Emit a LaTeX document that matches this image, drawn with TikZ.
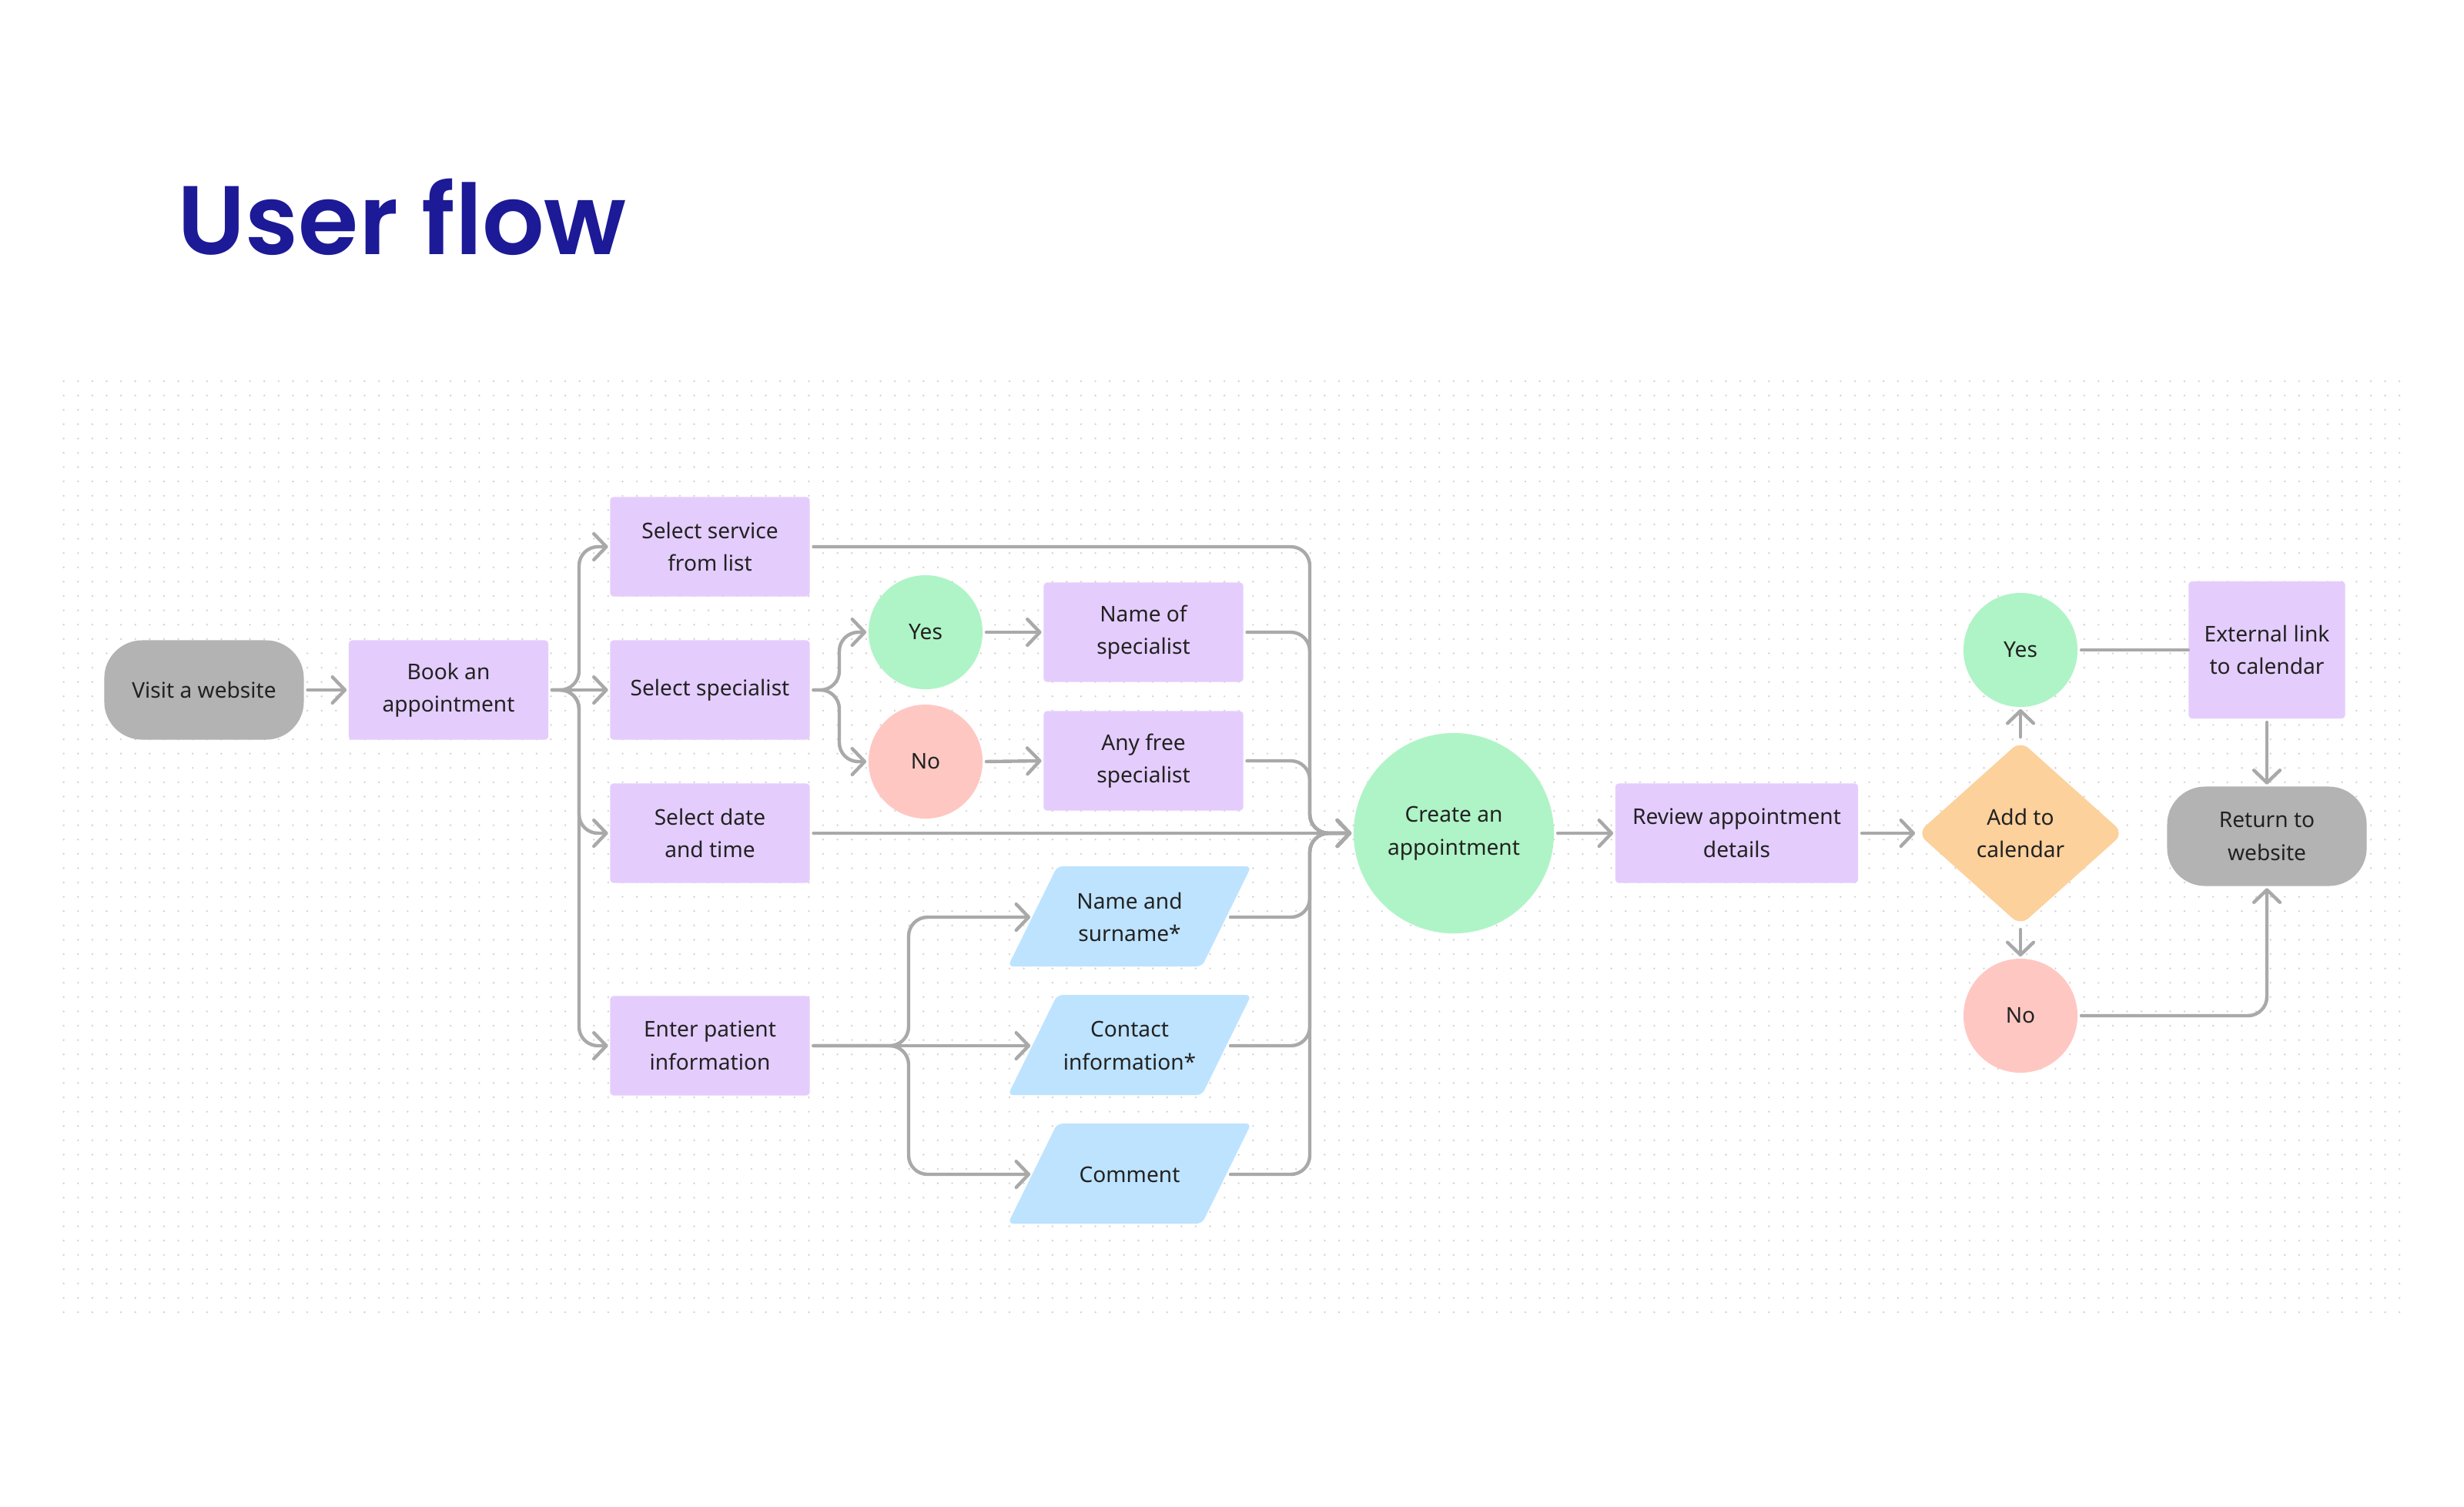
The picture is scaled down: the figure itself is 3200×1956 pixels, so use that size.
\documentclass[tikz,border=0pt]{standalone}
\usepackage{fontspec}
\usetikzlibrary{arrows.meta,shapes.geometric,calc}
\newfontfamily\nf{Noto Sans}
\newfontfamily\tf{Poppins SemiBold}
\definecolor{purp}{HTML}{E4CDFD}
\definecolor{pillgray}{HTML}{B3B3B3}
\definecolor{ygreen}{HTML}{AFF4C6}
\definecolor{npink}{HTML}{FFC7C2}
\definecolor{pblue}{HTML}{BDE3FF}
\definecolor{dorange}{HTML}{FCD19C}
\definecolor{edgec}{HTML}{A9A9A9}
\definecolor{txtc}{HTML}{222222}
\definecolor{titlec}{HTML}{1C1A96}
\definecolor{dotc}{HTML}{D2D2D2}
\begin{document}
\begin{tikzpicture}[x=0.01cm,y=-0.01cm,
  txt/.style={align=center, inner sep=0pt, text=txtc, font=\nf\fontsize{8}{12.1}\selectfont},
  pbox/.style={txt, rectangle, rounded corners=1.2pt, fill=purp, minimum width=2.59cm, minimum height=1.29cm},
  pill/.style={txt, rectangle, rounded corners=14pt, fill=pillgray, minimum width=2.59cm, minimum height=1.29cm},
  ycirc/.style={txt, circle, fill=ygreen, minimum size=1.48cm},
  ncirc/.style={txt, circle, fill=npink, minimum size=1.48cm},
  bigcirc/.style={txt, circle, fill=ygreen, minimum size=2.6cm},
  diam/.style={txt, diamond, fill=dorange, minimum width=2.68cm, minimum height=2.40cm, rounded corners=4pt},
  conn/.style={draw=edgec, line width=1.25pt, rounded corners=7pt, line cap=round, line join=round, shorten <=1.2pt},
  arr/.style={conn, shorten >=0.6pt, -{Straight Barb[length=4.6pt,width=9.6pt,round]}},
  dotline/.style={draw=dotc, line width=0.75pt, line cap=round, dash pattern=on 0pt off 5.292pt}
]
\useasboundingbox (0,0) rectangle (3200,1956);
\fill[white] (0,0) rectangle (3200,1956);
% dotted background
\foreach \r in {0,...,65} {
  \draw[dotline] (82.7,495+\r*18.6) -- (3120,495+\r*18.6);
}
% title
\node[anchor=base west, inner sep=0pt, text=titlec, font=\tf\fontsize{36}{40}\selectfont] (title) at (230,330) {User flow};

% nodes
\node[pill] (visit) at (265,896) {Visit a website};
\node[pbox] (book) at (582.5,896) {Book an\\appointment};
\node[pbox] (svc) at (922,710) {Select service\\from list};
\node[pbox] (spec) at (922,896) {Select specialist};
\node[pbox] (date) at (922,1082) {Select date\\and time};
\node[pbox] (pat) at (922,1358) {Enter patient\\information};
\node[ycirc] (yes1) at (1202,821) {Yes};
\node[ncirc] (no1) at (1202,989) {No};
\node[pbox] (nspec) at (1485,821) {Name of\\specialist};
\node[pbox] (fspec) at (1485,988) {Any free\\specialist};
\foreach \n/\yy/\t in {ns/1190/{Name and\\surname*}, ci/1357/{Contact\\information*}, cm/1524/{Comment}} {
  \fill[pblue, rounded corners=2pt] (1467-94,\yy-65) -- (1467+158,\yy-65) -- (1467+94,\yy+65) -- (1467-158,\yy+65) -- cycle;
  \node[txt, minimum width=2.52cm, minimum height=1.3cm] (\n) at (1467,\yy+1) {\t};
}
\node[bigcirc] (create) at (1888,1082) {Create an\\appointment};
\node[pbox, minimum width=3.15cm] (review) at (2255.5,1082) {Review appointment\\details};
\node[diam] (add) at (2624,1082) {Add to\\calendar};
\node[ycirc] (yes2) at (2624,844) {Yes};
\node[ncirc] (no2) at (2624,1319) {No};
\node[pbox, minimum width=2.03cm, minimum height=1.78cm] (ext) at (2944,844) {External link\\to calendar};
\node[pill] (ret) at (2944,1086) {Return to\\website};

% trunk coordinates
\coordinate (t1) at (752,0);
\coordinate (t2) at (1090,0);
\coordinate (t3) at (1180,0);
\coordinate (mx) at (1701,0);

% connectors
\draw[arr] (visit.east) -- (book.west);
\draw[arr] (book.east) -- (book.east -| t1) |- (svc.west);
\draw[arr] (book.east) -- (spec.west);
\draw[arr] (book.east) -- (book.east -| t1) |- (date.west);
\draw[arr] (book.east) -- (book.east -| t1) |- (pat.west);

\draw[arr] (spec.east) -- (spec.east -| t2) |- (yes1.west);
\draw[arr] (spec.east) -- (spec.east -| t2) |- (no1.west);
\draw[arr] (yes1.east) -- (nspec.west);
\draw[arr] (no1.east) -- (fspec.west);

\draw[arr] (pat.east) -- (pat.east -| t3) |- (ns.west);
\draw[arr] (pat.east) -- (ci.west);
\draw[arr] (pat.east) -- (pat.east -| t3) |- (cm.west);

\draw[arr] (svc.east) -- (svc.east -| mx) -- (mx |- create.west) -- (create.west);
\draw[arr] (nspec.east) -- (nspec.east -| mx) -- (mx |- create.west) -- (create.west);
\draw[arr] (fspec.east) -- (fspec.east -| mx) -- (mx |- create.west) -- (create.west);
\draw[arr] (date.east) -- (create.west);
\draw[arr] (ns.east) -- (ns.east -| mx) -- (mx |- create.west) -- (create.west);
\draw[arr] (ci.east) -- (ci.east -| mx) -- (mx |- create.west) -- (create.west);
\draw[arr] (cm.east) -- (cm.east -| mx) -- (mx |- create.west) -- (create.west);

\draw[arr] (create.east) -- (review.west);
\draw[arr] (review.east) -- (add.west);
\draw[arr] (add.north) -- (yes2.south);
\draw[arr] (add.south) -- (no2.north);
\draw[conn] (yes2.east) -- (ext.west);
\draw[arr] (ext.south) -- (ret.north);
\draw[arr] (no2.east) -| (ret.south);
\end{tikzpicture}
\end{document}
